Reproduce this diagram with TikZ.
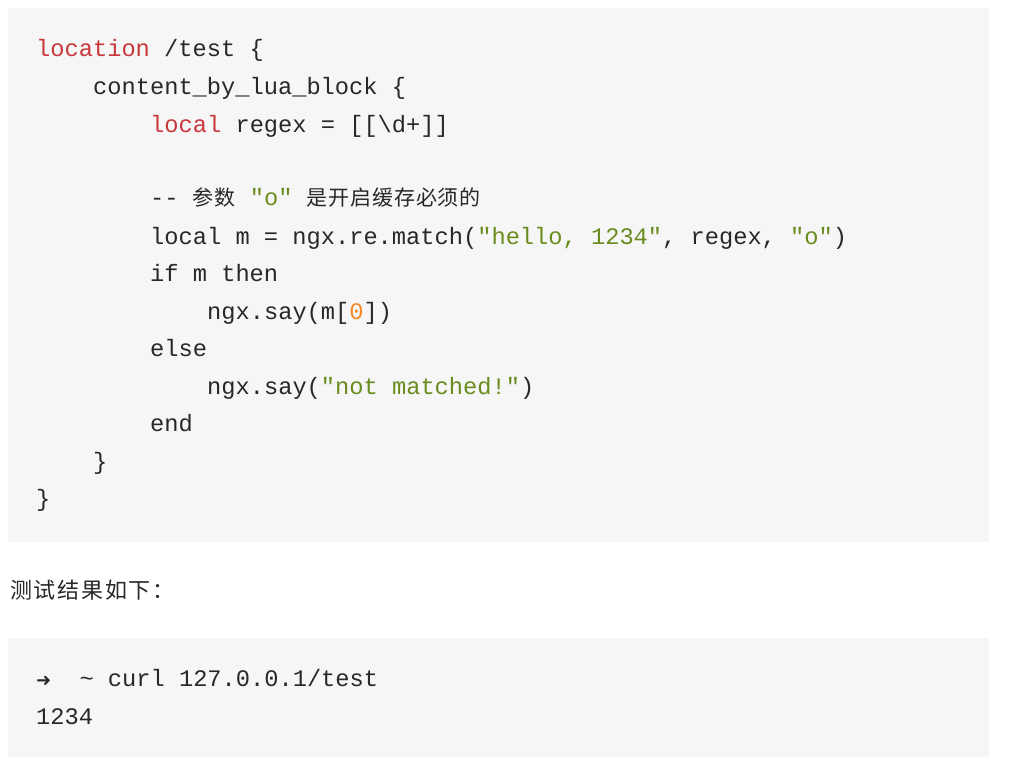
\documentclass[tikz,border=0pt]{standalone}
\usepackage{fontspec}
\setmonofont{Liberation Mono}
\newfontfamily\cjk{Noto Sans CJK SC}
\newfontfamily\symf{DejaVu Sans}
\definecolor{kw}{RGB}{200,55,60}
\definecolor{st}{RGB}{105,140,30}
\definecolor{nm}{RGB}{245,135,40}
\definecolor{bg}{RGB}{246,246,246}
\definecolor{tx}{RGB}{40,40,40}
\tikzset{code/.style={anchor=base west,inner sep=0pt,font=\ttfamily\fontsize{23.7}{26}\selectfont,text=tx},
 cbox/.style={fill=bg,draw=none}}
\begin{document}
\begin{tikzpicture}[x=1pt,y=1pt]
\useasboundingbox (0,0) rectangle (1030,757);
\fill[white] (0,0) rectangle (1030,757);
\node[cbox,minimum width=981,minimum height=534,anchor=north west,inner sep=0] (b1) at (8,749) {};
\node[cbox,minimum width=981,minimum height=119,anchor=north west,inner sep=0] (b2) at (8,119) {};
\node[code] (l1) at (36,700) {\textcolor{kw}{location} /test \{};
\node[code] (l2) at (93,662) {content\_by\_lua\_block \{};
\node[code] (l3) at (150,624) {\textcolor{kw}{local} regex = [[\textbackslash d+]]};
\node[code] (l4) at (150,551) {-{}- {\cjk\fontsize{21}{24}\selectfont\addfontfeature{LetterSpace=4}参数} \textcolor{st}{"o"} {\cjk\fontsize{21}{24}\selectfont\addfontfeature{LetterSpace=4}是开启缓存必须的}};
\node[code] (l5) at (150,512) {local m = ngx.re.match(\textcolor{st}{"hello, 1234"}, regex, \textcolor{st}{"o"})};
\node[code] (l6) at (150,475) {if m then};
\node[code] (l7) at (207,437) {ngx.say(m[\textcolor{nm}{0}])};
\node[code] (l8) at (150,400) {else};
\node[code] (l9) at (207,362) {ngx.say(\textcolor{st}{"not matched!"})};
\node[code] (l10) at (150,325) {end};
\node[code] (l11) at (93,287) {\}};
\node[code] (l12) at (36,250) {\}};
\node[anchor=base west,inner sep=0,font=\cjk\fontsize{22}{24}\selectfont,text=tx] (t) at (10,158) {\addfontfeature{LetterSpace=8}测试结果如下：};
\node[code] (r1) at (36,70) {{\symf\fontsize{18}{20}\selectfont ➜}\hspace{14pt} \textasciitilde{} curl 127.0.0.1/test};
\node[code] (r2) at (36,32) {1234};
\end{tikzpicture}
\end{document}
